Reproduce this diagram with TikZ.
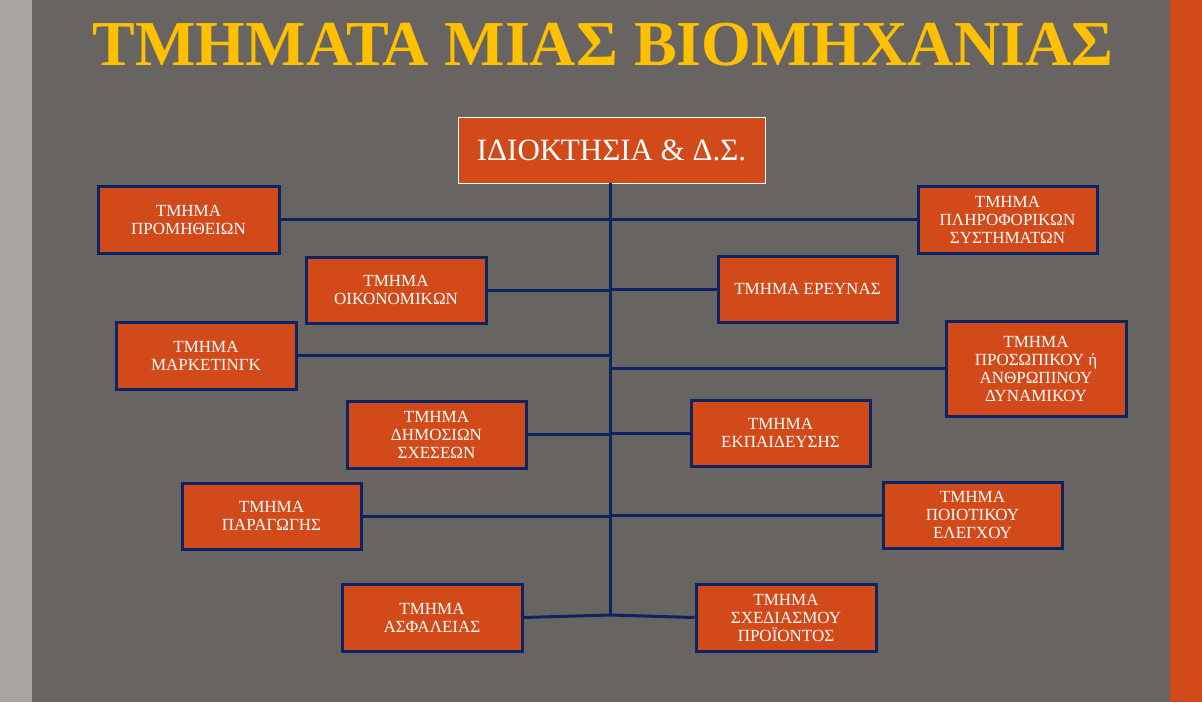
\documentclass[tikz,border=0pt]{standalone}
\usepackage{fontspec}
\setmainfont{Liberation Serif}
\definecolor{bgdark}{HTML}{686462}
\definecolor{bglight}{HTML}{A8A4A2}
\definecolor{org}{HTML}{D24A1A}
\definecolor{navy}{HTML}{0C2461}
\definecolor{gold}{HTML}{FFC000}
\begin{document}
\begin{tikzpicture}[x=1pt,y=-1pt,
 box/.style={fill=org,draw=navy,line width=3pt,text=white,align=center,font=\fontsize{17}{18}\selectfont,inner sep=0pt},
 conn/.style={draw=navy,line width=3pt}]
\useasboundingbox (0,0) rectangle (1202,702);
\fill[bglight] (0,0) rectangle (32,702);
\fill[bgdark] (32,0) rectangle (1170,702);
\fill[org] (1170,0) rectangle (1202,702);
\node[text=gold,font=\fontsize{64}{64}\selectfont\bfseries] (title) at (603,45) {ΤΜΗΜΑΤΑ ΜΙΑΣ ΒΙΟΜΗΧΑΝΙΑΣ};
\node[fill=org,draw=white,line width=0.8pt,text=white,minimum width=307pt,minimum height=66pt,font=\fontsize{31}{32}\selectfont] (top) at (611.5,150) {ΙΔΙΟΚΤΗΣΙΑ \& Δ.Σ.};
\coordinate (tb) at (610,615);
% left
\node[box,minimum width=181pt,minimum height=67pt] (l1) at (188.5,219.5) {ΤΜΗΜΑ\\ΠΡΟΜΗΘΕΙΩΝ};
\node[box,minimum width=180pt,minimum height=66pt] (l2) at (396,290) {ΤΜΗΜΑ\\ΟΙΚΟΝΟΜΙΚΩΝ};
\node[box,minimum width=180pt,minimum height=67pt] (l3) at (206,355.5) {ΤΜΗΜΑ\\ΜΑΡΚΕΤΙΝΓΚ};
\node[box,minimum width=179pt,minimum height=67pt] (l4) at (436.5,434.5) {ΤΜΗΜΑ\\ΔΗΜΟΣΙΩΝ\\ΣΧΕΣΕΩΝ};
\node[box,minimum width=179pt,minimum height=66pt] (l5) at (271.5,516) {ΤΜΗΜΑ\\ΠΑΡΑΓΩΓΗΣ};
\node[box,minimum width=180pt,minimum height=67pt] (l6) at (432,617.5) {ΤΜΗΜΑ\\ΑΣΦΑΛΕΙΑΣ};
% right
\node[box,minimum width=179pt,minimum height=67pt] (r1) at (1007.5,219.5) {ΤΜΗΜΑ\\ΠΛΗΡΟΦΟΡΙΚΩΝ\\ΣΥΣΤΗΜΑΤΩΝ};
\node[box,minimum width=179pt,minimum height=66pt] (r2) at (807.5,289) {ΤΜΗΜΑ ΕΡΕΥΝΑΣ};
\node[box,minimum width=180pt,minimum height=95pt] (r3) at (1036,368.5) {ΤΜΗΜΑ\\ΠΡΟΣΩΠΙΚΟΥ ή\\ΑΝΘΡΩΠΙΝΟΥ\\ΔΥΝΑΜΙΚΟΥ};
\node[box,minimum width=179pt,minimum height=66pt] (r4) at (780.5,433) {ΤΜΗΜΑ\\ΕΚΠΑΙΔΕΥΣΗΣ};
\node[box,minimum width=179pt,minimum height=66pt] (r5) at (972.5,515) {ΤΜΗΜΑ\\ΠΟΙΟΤΙΚΟΥ\\ΕΛΕΓΧΟΥ};
\node[box,minimum width=180pt,minimum height=67pt] (r6) at (786,617.5) {ΤΜΗΜΑ\\ΣΧΕΔΙΑΣΜΟΥ\\ΠΡΟΪΟΝΤΟΣ};
\begin{scope}[on background layer/.style={}]
\end{scope}
\draw[conn] (top.south -| tb) -- (tb);
\draw[conn] (l1.east) -- (l1.east -| tb);
\draw[conn] (l2.east) -- (l2.east -| tb);
\draw[conn] (l3.east) -- (l3.east -| tb);
\draw[conn] (l4.east) -- (l4.east -| tb);
\draw[conn] (l5.east) -- (l5.east -| tb);
\draw[conn] (l6.east) -- (tb);
\draw[conn] (r1.west) -- (r1.west -| tb);
\draw[conn] (r2.west) -- (r2.west -| tb);
\draw[conn] (r3.west) -- (r3.west -| tb);
\draw[conn] (r4.west) -- (r4.west -| tb);
\draw[conn] (r5.west) -- (r5.west -| tb);
\draw[conn] (r6.west) -- (tb);
\end{tikzpicture}
\end{document}
